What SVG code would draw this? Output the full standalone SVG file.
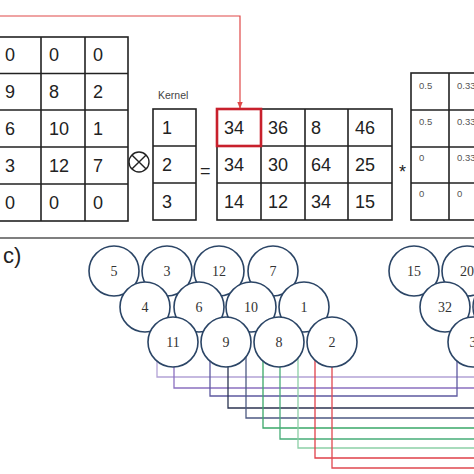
<svg xmlns="http://www.w3.org/2000/svg" width="474" height="474" viewBox="0 0 474 474">
<style>
.grid{fill:none;stroke:#222;stroke-width:1.6}
.big{font-family:"Liberation Sans",Arial,sans-serif;font-size:18px;fill:#222}
.small{font-family:"Liberation Sans",Arial,sans-serif;font-size:9.5px;fill:#555}
.node circle{fill:#fff;stroke:#2b4566;stroke-width:1.6}
.node text{font-family:"Liberation Serif","Times New Roman",serif;font-size:14px;fill:#333;text-anchor:middle}
.conn{fill:none;stroke-width:1.3}
</style>
<defs>
<marker id="ah" viewBox="0 0 10 10" refX="9" refY="5" markerWidth="6" markerHeight="6" orient="auto">
<path d="M0,1 L10,5 L0,9 z" fill="#e04848"/>
</marker>
</defs>
<rect width="474" height="474" fill="#fff"/>

<path d="M0,16 H240 V108" fill="none" stroke="#e04848" stroke-width="1.2" marker-end="url(#ah)"/>

<g id="input-matrix">
<rect class="grid" x="-2" y="37" width="130" height="184"/>
<path class="grid" d="M41,37V221M85,37V221M-2,73.5H128M-2,110H128M-2,147H128M-2,184H128"/>
<g class="big">
<text x="5" y="61">0</text><text x="49" y="61">0</text><text x="93" y="61">0</text>
<text x="5" y="98">9</text><text x="49" y="98">8</text><text x="93" y="98">2</text>
<text x="5" y="135">6</text><text x="49" y="135">10</text><text x="93" y="135">1</text>
<text x="5" y="172">3</text><text x="49" y="172">12</text><text x="93" y="172">7</text>
<text x="5" y="209">0</text><text x="49" y="209">0</text><text x="93" y="209">0</text>
</g>
</g>

<g id="otimes" fill="none" stroke="#222" stroke-width="1.4">
<circle cx="139" cy="162" r="10"/>
<path d="M131.9,154.9L146.1,169.1M146.1,154.9L131.9,169.1"/>
</g>

<g id="kernel">
<text x="158" y="99" font-family="Liberation Sans,Arial,sans-serif" font-size="10.5" fill="#444">Kernel</text>
<rect class="grid" x="153" y="109" width="43" height="111"/>
<path class="grid" d="M153,146H196M153,183H196"/>
<g class="big">
<text x="162" y="134">1</text><text x="162" y="171">2</text><text x="162" y="208">3</text>
</g>
</g>

<text class="big" x="200" y="177" font-size="20">=</text>

<g id="output-matrix">
<rect class="grid" x="217" y="109" width="175" height="111"/>
<path class="grid" d="M261,109V220M305,109V220M348,109V220M217,146H392M217,183H392"/>
<g class="big">
<text x="224" y="134">34</text><text x="268" y="134">36</text><text x="311" y="134">8</text><text x="355" y="134">46</text>
<text x="224" y="171">34</text><text x="268" y="171">30</text><text x="311" y="171">64</text><text x="355" y="171">25</text>
<text x="224" y="208">14</text><text x="268" y="208">12</text><text x="311" y="208">34</text><text x="355" y="208">15</text>
</g>
<rect x="217" y="109" width="44" height="37" fill="none" stroke="#c8202c" stroke-width="2.6"/>
</g>

<text class="big" x="399" y="178" font-size="20">*</text>

<g id="weight-matrix">
<rect class="grid" x="411" y="73" width="80" height="147"/>
<path class="grid" d="M449,73V220M411,110H491M411,147H491M411,183H491"/>
<g class="small">
<text x="419" y="89">0.5</text><text x="457" y="89">0.33</text>
<text x="419" y="125">0.5</text><text x="457" y="125">0.33</text>
<text x="419" y="161">0</text><text x="457" y="161">0.33</text>
<text x="419" y="197">0</text><text x="457" y="197">0</text>
</g>
</g>

<line x1="0" y1="238" x2="474" y2="238" stroke="#555" stroke-width="1.6"/>
<text x="3" y="263" font-family="Liberation Sans,Arial,sans-serif" font-size="22" fill="#222">c)</text>

<g id="connectors">
<path class="conn" stroke="#b3a3d6" d="M157,342V377H474"/>
<path class="conn" stroke="#8b70c0" d="M174,342V388H474"/>
<path class="conn" stroke="#5e5aa0" d="M210,342V396H457V342"/>
<path class="conn" stroke="#2c3552" d="M228,342V408H474"/>
<path class="conn" stroke="#4d5a82" d="M246,342V418H474"/>
<path class="conn" stroke="#3aa868" d="M263,342V428H474"/>
<path class="conn" stroke="#47ad78" d="M280,342V439H474"/>
<path class="conn" stroke="#8ccfa6" d="M298,342V448H474"/>
<path class="conn" stroke="#e0404a" d="M315,342V458H474"/>
<path class="conn" stroke="#e04850" d="M332,342V468H474"/>
</g>

<g id="n5" class="node"><circle cx="114" cy="271" r="25"/><text x="114" y="276">5</text></g>
<g id="n3" class="node"><circle cx="167" cy="271" r="25"/><text x="167" y="276">3</text></g>
<g id="n12" class="node"><circle cx="219" cy="271" r="25"/><text x="219" y="276">12</text></g>
<g id="n7" class="node"><circle cx="273" cy="271" r="25"/><text x="273" y="276">7</text></g>
<g id="n15" class="node"><circle cx="414" cy="271" r="25"/><text x="414" y="276">15</text></g>
<g id="n20" class="node"><circle cx="467" cy="271" r="25"/><text x="467" y="276">20</text></g>
<g id="n4" class="node"><circle cx="145" cy="307" r="25"/><text x="145" y="312">4</text></g>
<g id="n6" class="node"><circle cx="199" cy="307" r="25"/><text x="199" y="312">6</text></g>
<g id="n10" class="node"><circle cx="251" cy="307" r="25"/><text x="251" y="312">10</text></g>
<g id="n1" class="node"><circle cx="304" cy="307" r="25"/><text x="304" y="312">1</text></g>
<g id="n32" class="node"><circle cx="445" cy="307" r="25"/><text x="445" y="312">32</text></g>
<g id="nr2" class="node"><circle cx="498" cy="307" r="25"/></g>
<g id="n11" class="node"><circle cx="173" cy="342" r="25"/><text x="173" y="347">11</text></g>
<g id="n9" class="node"><circle cx="226" cy="342" r="25"/><text x="226" y="347">9</text></g>
<g id="n8" class="node"><circle cx="279" cy="342" r="25"/><text x="279" y="347">8</text></g>
<g id="n2" class="node"><circle cx="332" cy="342" r="25"/><text x="332" y="347">2</text></g>
<g id="n3r" class="node"><circle cx="473" cy="342" r="25"/><text x="473" y="347">3</text></g>
</svg>
